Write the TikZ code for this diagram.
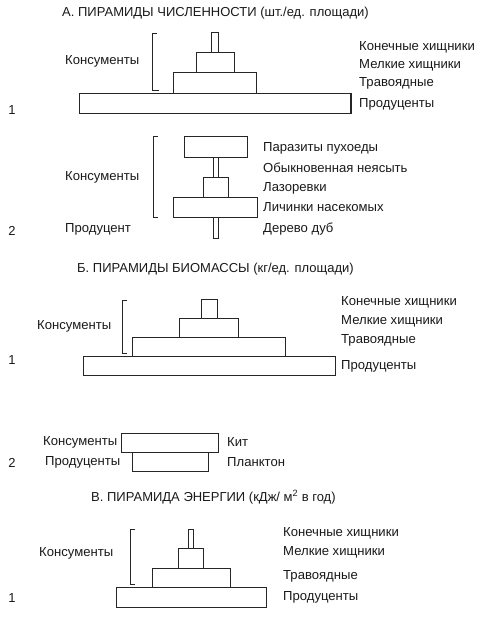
\documentclass[tikz,border=0pt]{standalone}
\usepackage{fontspec}
\setmainfont{Liberation Sans}
\usepackage{tikz}
\usetikzlibrary{positioning}

\begin{document}
\begin{tikzpicture}[x=1pt, y=-1pt,
  tier/.style={rectangle, draw=black!85, line width=0.7pt, inner sep=0pt, outer sep=0pt},
  lbl/.style={anchor=west, inner sep=0pt, text=black!90, font=\fontsize{13.1}{15}\selectfont},
  ttl/.style={anchor=west, inner sep=0pt, text=black!90, font=\fontsize{13}{15}\selectfont},
  num/.style={inner sep=0pt, text=black!90, font=\fontsize{13}{15}\selectfont},
  brk/.style={draw=black!85, line width=0.7pt}
]
\useasboundingbox (0,0) rectangle (500,620);

\node[ttl] (ttla) at (62,13) {А. ПИРАМИДЫ ЧИСЛЕННОСТИ (шт./ед. площади)};

\node[tier, minimum width=272pt, minimum height=20pt] (a1prod) at (215,103) {};
\node[tier, minimum width=83pt, minimum height=21pt, above=0pt of a1prod] (a1herb) {};
\node[tier, minimum width=38pt, minimum height=20pt, above=0pt of a1herb] (a1small) {};
\node[tier, minimum width=7pt, minimum height=20pt, above=0pt of a1small] (a1top) {};
\draw[line width=1.5pt, black!85] (a1prod.north east) -- (a1prod.south east);
\draw[brk] (157,33) -- (152,33) -- (152,90) -- (159,90);
\node[lbl] (a1cons) at (65,61) {Консументы};
\node[lbl] (a1l1) at (359,47) {Конечные хищники};
\node[lbl] (a1l2) at (359,65) {Мелкие хищники};
\node[lbl] (a1l3) at (359,83) {Травоядные};
\node[lbl] (a1l4) at (359,104) {Продуценты};
\node[num] (n1a) at (12,110) {1};

\node[tier, minimum width=5pt, minimum height=21pt] (a2oak) at (215.5,227.5) {};
\node[tier, minimum width=84pt, minimum height=20pt, above=0pt of a2oak] (a2larva) {};
\node[tier, minimum width=25pt, minimum height=20pt, above=0pt of a2larva] (a2tit) {};
\node[tier, minimum width=5pt, minimum height=20pt, above=0pt of a2tit] (a2owl) {};
\node[tier, minimum width=63pt, minimum height=21pt, above=0pt of a2owl] (a2lice) {};
\draw[brk] (158,136) -- (153,136) -- (153,217) -- (158,217);
\node[lbl] (a2cons) at (65,177) {Консументы};
\node[lbl] (a2prod) at (65,229) {Продуцент};
\node[lbl] (a2l1) at (263,148) {Паразиты пухоеды};
\node[lbl] (a2l2) at (263,168) {Обыкновенная неясыть};
\node[lbl] (a2l3) at (263,188) {Лазоревки};
\node[lbl] (a2l4) at (263,207) {Личинки насекомых};
\node[lbl] (a2l5) at (263,229) {Дерево дуб};
\node[num] (n2a) at (12,231) {2};

\node[ttl] (ttlb) at (77,269) {Б. ПИРАМИДЫ БИОМАССЫ (кг/ед. площади)};

\node[tier, minimum width=252pt, minimum height=19pt] (b1prod) at (209,365.5) {};
\node[tier, minimum width=153pt, minimum height=19pt, above=0pt of b1prod] (b1herb) {};
\node[tier, minimum width=59pt, minimum height=19pt, above=0pt of b1herb] (b1small) {};
\node[tier, minimum width=16pt, minimum height=19pt, above=0pt of b1small] (b1top) {};
\draw[brk] (127,300) -- (122,300) -- (122,353) -- (127,353);
\node[lbl] (b1cons) at (37,326) {Консументы};
\node[lbl] (b1l1) at (341,302) {Конечные хищники};
\node[lbl] (b1l2) at (341,321) {Мелкие хищники};
\node[lbl] (b1l3) at (341,340) {Травоядные};
\node[lbl] (b1l4) at (341,366) {Продуценты};
\node[num] (n1b) at (12,360) {1};

\node[tier, minimum width=76pt, minimum height=19pt] (b2plank) at (170,461.5) {};
\node[tier, minimum width=97pt, minimum height=19pt, above=0pt of b2plank] (b2whale) {};
\node[lbl] (b2cons) at (43,442) {Консументы};
\node[lbl] (b2prod) at (45,462) {Продуценты};
\node[lbl] (b2l1) at (227,442) {Кит};
\node[lbl] (b2l2) at (227,462) {Планктон};
\node[num] (n2b) at (12,463) {2};

\node[ttl] (ttlc) at (91,497) {В. ПИРАМИДА ЭНЕРГИИ (кДж/ м\textsuperscript{2} в год)};

\node[tier, minimum width=150pt, minimum height=20pt] (c1prod) at (191,597) {};
\node[tier, minimum width=78pt, minimum height=19pt, above=0pt of c1prod] (c1herb) {};
\node[tier, minimum width=25pt, minimum height=20pt, above=0pt of c1herb] (c1small) {};
\node[tier, minimum width=5pt, minimum height=19pt, above=0pt of c1small] (c1top) {};
\draw[brk] (135,529) -- (130,529) -- (130,584) -- (135,584);
\node[lbl] (c1cons) at (39,553) {Консументы};
\node[lbl] (c1l1) at (283,533) {Конечные хищники};
\node[lbl] (c1l2) at (283,552) {Мелкие хищники};
\node[lbl] (c1l3) at (283,576) {Травоядные};
\node[lbl] (c1l4) at (283,597) {Продуценты};
\node[num] (n1c) at (12,598) {1};
\end{tikzpicture}
\end{document}
